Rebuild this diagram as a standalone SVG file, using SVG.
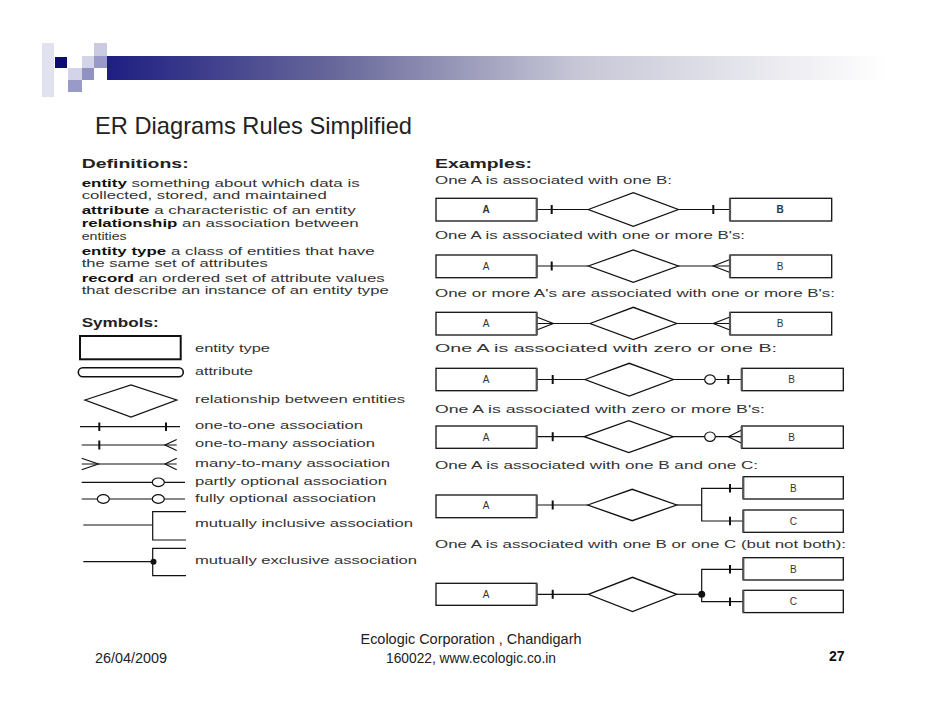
<svg xmlns="http://www.w3.org/2000/svg" width="942" height="728" viewBox="0 0 942 728">
<style>
text{font-family:"Liberation Sans",Arial,sans-serif;}
.t{font-size:11.5px;fill:#333;}
.h{font-size:12.5px;font-weight:bold;fill:#222;}
.b{font-weight:bold;fill:#111;}
.lbl{font-size:10px;fill:#333;text-anchor:middle;}
.ft{font-size:14px;fill:#222;}
.ent{fill:#fff;stroke:#111;stroke-width:1.3;}
.edge{stroke:#555;stroke-width:2.2;}
.dia{fill:#fff;stroke:#111;stroke-width:1.3;}
.ln{stroke:#111;stroke-width:1.2;fill:none;}
.tk{stroke:#111;stroke-width:2;}
.op{fill:#fff;stroke:#111;stroke-width:1.2;}
</style>
<defs>
<linearGradient id="bar" x1="0" y1="0" x2="1" y2="0">
<stop offset="0" stop-color="#1e1e82"/>
<stop offset="0.3" stop-color="#6a6a9c"/>
<stop offset="0.6" stop-color="#c6c6d6"/>
<stop offset="1" stop-color="#ffffff"/>
</linearGradient>
</defs>
<rect width="942" height="728" fill="#fff"/>
<g id="header">
<rect x="42" y="43" width="12" height="54" fill="#e2e2ee"/>
<rect x="55" y="57" width="12" height="11" fill="#0c0c70"/>
<rect x="94" y="43" width="13" height="13" fill="#cacae0"/>
<rect x="82" y="56" width="12" height="12" fill="#d4d4e8"/>
<rect x="94" y="56" width="13" height="12" fill="#9a9ac8"/>
<rect x="68" y="68" width="14" height="12" fill="#d4d4e8"/>
<rect x="82" y="68" width="12" height="12" fill="#9292c2"/>
<rect x="68" y="80" width="14" height="12" fill="#9a9ac8"/>
<rect x="107" y="56" width="780" height="24" fill="url(#bar)"/>
<text x="95" y="134" font-size="24" fill="#222" textLength="317" lengthAdjust="spacingAndGlyphs">ER Diagrams Rules Simplified</text>
</g>
<g id="definitions">
<text class="h" x="81.7" y="168" textLength="107" lengthAdjust="spacingAndGlyphs">Definitions:</text>
<text class="t" x="81.7" y="186.5" textLength="278" lengthAdjust="spacingAndGlyphs"><tspan class="b">entity</tspan> something about which data is</text>
<text class="t" x="81.7" y="198.5" textLength="245" lengthAdjust="spacingAndGlyphs">collected, stored, and maintained</text>
<text class="t" x="81.7" y="213.5" textLength="274" lengthAdjust="spacingAndGlyphs"><tspan class="b">attribute</tspan> a characteristic of an entity</text>
<text class="t" x="81.7" y="227" textLength="277" lengthAdjust="spacingAndGlyphs"><tspan class="b">relationship</tspan> an association between</text>
<text class="t" x="81.7" y="239.5" textLength="45" lengthAdjust="spacingAndGlyphs">entities</text>
<text class="t" x="81.7" y="254.5" textLength="293" lengthAdjust="spacingAndGlyphs"><tspan class="b">entity type</tspan> a class of entities that have</text>
<text class="t" x="81.7" y="266.5" textLength="186" lengthAdjust="spacingAndGlyphs">the same set of attributes</text>
<text class="t" x="81.7" y="281.5" textLength="303" lengthAdjust="spacingAndGlyphs"><tspan class="b">record</tspan> an ordered set of attribute values</text>
<text class="t" x="81.7" y="293.5" textLength="307" lengthAdjust="spacingAndGlyphs">that describe an instance of an entity type</text>
</g>
<g id="symbols">
<text class="h" x="81.7" y="327" textLength="77" lengthAdjust="spacingAndGlyphs">Symbols:</text>
<rect x="80" y="336" width="100.7" height="23.3" fill="#fff" stroke="#111" stroke-width="2"/>
<rect x="78.3" y="367.7" width="105" height="9" rx="4.5" fill="#fff" stroke="#111" stroke-width="1.6"/>
<polygon class="dia" points="85,400 131,385 176.7,400 131,417"/>
<line class="ln" x1="80" y1="426.7" x2="180" y2="426.7"/>
<line class="tk" x1="99.3" y1="422.5" x2="99.3" y2="431"/>
<line class="tk" x1="166" y1="422.5" x2="166" y2="431"/>
<line class="ln" x1="81.7" y1="445" x2="176.7" y2="445"/>
<line class="tk" x1="99.3" y1="440.5" x2="99.3" y2="449.5"/>
<polyline class="ln" points="176.7,439.5 165,445 176.7,450.5"/>
<line class="ln" x1="81.7" y1="464" x2="176.7" y2="464"/>
<polyline class="ln" points="81.7,458.3 98.3,464 81.7,469.7"/>
<polyline class="ln" points="176.7,458.3 165,464 176.7,469.7"/>
<line class="ln" x1="81.7" y1="482.3" x2="185" y2="482.3"/>
<ellipse class="op" cx="158.3" cy="482.3" rx="6" ry="4.3"/>
<line class="ln" x1="81.7" y1="499" x2="185" y2="499"/>
<ellipse class="op" cx="103.3" cy="499" rx="6" ry="4.3"/>
<ellipse class="op" cx="158.3" cy="499" rx="6" ry="4.3"/>
<line class="ln" x1="83.3" y1="525" x2="152.7" y2="525"/>
<polyline class="ln" points="186,511.7 152.7,511.7 152.7,540 186,540"/>
<line class="ln" x1="83.3" y1="561.7" x2="152.7" y2="561.7"/>
<polyline class="ln" points="186,548.3 152.7,548.3 152.7,575.7 186,575.7"/>
<circle cx="153.5" cy="561.7" r="3" fill="#111"/>
<text class="t" x="195" y="351.5" textLength="75" lengthAdjust="spacingAndGlyphs">entity type</text>
<text class="t" x="195" y="375" textLength="58" lengthAdjust="spacingAndGlyphs">attribute</text>
<text class="t" x="195" y="402.5" textLength="210" lengthAdjust="spacingAndGlyphs">relationship between entities</text>
<text class="t" x="195" y="428.5" textLength="168" lengthAdjust="spacingAndGlyphs">one-to-one association</text>
<text class="t" x="195" y="447" textLength="180" lengthAdjust="spacingAndGlyphs">one-to-many association</text>
<text class="t" x="195" y="467" textLength="195" lengthAdjust="spacingAndGlyphs">many-to-many association</text>
<text class="t" x="195" y="485" textLength="192" lengthAdjust="spacingAndGlyphs">partly optional association</text>
<text class="t" x="195" y="502" textLength="181" lengthAdjust="spacingAndGlyphs">fully optional association</text>
<text class="t" x="195" y="527" textLength="218" lengthAdjust="spacingAndGlyphs">mutually inclusive association</text>
<text class="t" x="195" y="564" textLength="222" lengthAdjust="spacingAndGlyphs">mutually exclusive association</text>
</g>
<g id="example-labels">
<text class="h" x="435" y="167.5" textLength="97" lengthAdjust="spacingAndGlyphs">Examples:</text>
<text class="t" x="435" y="183.5" textLength="237" lengthAdjust="spacingAndGlyphs">One A is associated with one B:</text>
<text class="t" x="435" y="238.5" textLength="310" lengthAdjust="spacingAndGlyphs">One A is associated with one or more B's:</text>
<text class="t" x="435" y="297" textLength="400" lengthAdjust="spacingAndGlyphs">One or more A's are associated with one or more B's:</text>
<text class="t" x="435" y="352" textLength="342" lengthAdjust="spacingAndGlyphs">One A is associated with zero or one B:</text>
<text class="t" x="435" y="412.5" textLength="330" lengthAdjust="spacingAndGlyphs">One A is associated with zero or more B's:</text>
<text class="t" x="435" y="468.5" textLength="323" lengthAdjust="spacingAndGlyphs">One A is associated with one B and one C:</text>
<text class="t" x="435" y="547.5" textLength="411" lengthAdjust="spacingAndGlyphs">One A is associated with one B or one C (but not both):</text>
</g>
<g id="connectors">
<line class="ln" x1="536.7" y1="209.5" x2="588.3" y2="209.5"/>
<line class="tk" x1="551.7" y1="205" x2="551.7" y2="214"/>
<line class="ln" x1="678.3" y1="209.5" x2="730" y2="209.5"/>
<line class="tk" x1="713.3" y1="205" x2="713.3" y2="214"/>
<line class="ln" x1="536.7" y1="266" x2="588.3" y2="266"/>
<line class="tk" x1="551.7" y1="261.5" x2="551.7" y2="270.5"/>
<line class="ln" x1="678.3" y1="266" x2="730" y2="266"/>
<polyline class="ln" points="730,259.5 713.3,266 730,272.5"/>
<line class="ln" x1="536.7" y1="323.5" x2="590" y2="323.5"/>
<polyline class="ln" points="536.7,317 553.3,323.5 536.7,330"/>
<line class="ln" x1="676.7" y1="323.5" x2="730" y2="323.5"/>
<polyline class="ln" points="730,317 713.3,323.5 730,330"/>
<line class="ln" x1="536.7" y1="379.5" x2="585" y2="379.5"/>
<line class="tk" x1="552.7" y1="375" x2="552.7" y2="384"/>
<line class="ln" x1="673.3" y1="379.5" x2="741.7" y2="379.5"/>
<ellipse class="op" cx="710" cy="379.5" rx="5.3" ry="4.7"/>
<line class="tk" x1="728.3" y1="375" x2="728.3" y2="384"/>
<line class="ln" x1="536.7" y1="436.7" x2="584.3" y2="436.7"/>
<line class="tk" x1="552.7" y1="432.2" x2="552.7" y2="441.2"/>
<line class="ln" x1="673.3" y1="436.7" x2="741.7" y2="436.7"/>
<ellipse class="op" cx="710" cy="436.7" rx="5.3" ry="4.7"/>
<polyline class="ln" points="741.7,430 728.3,436.7 741.7,443.3"/>
<line class="ln" x1="536.7" y1="505" x2="587.7" y2="505"/>
<line class="tk" x1="552.7" y1="500.5" x2="552.7" y2="509.5"/>
<line class="ln" x1="676.7" y1="505" x2="701.7" y2="505"/>
<polyline class="ln" points="743.3,488.3 701.7,488.3 701.7,521 743.3,521"/>
<line class="tk" x1="730" y1="484" x2="730" y2="492.6"/>
<line class="tk" x1="730" y1="516.7" x2="730" y2="525.3"/>
<line class="ln" x1="536.7" y1="594.3" x2="588.3" y2="594.3"/>
<line class="tk" x1="552.7" y1="589.8" x2="552.7" y2="598.8"/>
<line class="ln" x1="676.7" y1="594.3" x2="701.7" y2="594.3"/>
<polyline class="ln" points="743.3,569.3 701.7,569.3 701.7,601.7 743.3,601.7"/>
<circle cx="701.7" cy="594.3" r="3.5" fill="#111"/>
<line class="tk" x1="730" y1="565" x2="730" y2="573.6"/>
<line class="tk" x1="730" y1="597.4" x2="730" y2="606"/>
</g>
<g id="r1-a"><rect class="ent" x="436" y="198.3" width="100.7" height="22.7"/><line class="edge" x1="536.7" y1="198.3" x2="536.7" y2="221"/><text class="lbl" x="486" y="213" font-weight="bold">A</text></g>
<g id="r1-rel"><polygon class="dia" points="588.3,209.5 633.3,192.7 678.3,209.5 633.3,226.3"/></g>
<g id="r1-b"><rect class="ent" x="730" y="198.3" width="101.7" height="22.7"/><line class="edge" x1="730" y1="198.3" x2="730" y2="221"/><text class="lbl" x="780" y="213" font-weight="bold">B</text></g>
<g id="r2-a"><rect class="ent" x="436" y="255" width="100.7" height="22.7"/><line class="edge" x1="536.7" y1="255" x2="536.7" y2="277.7"/><text class="lbl" x="486" y="269.7">A</text></g>
<g id="r2-rel"><polygon class="dia" points="588.3,266 633.3,250 678.3,266 633.3,282.3"/></g>
<g id="r2-b"><rect class="ent" x="730" y="255" width="101.7" height="22.7"/><line class="edge" x1="730" y1="255" x2="730" y2="277.7"/><text class="lbl" x="780" y="269.7">B</text></g>
<g id="r3-a"><rect class="ent" x="436" y="312.3" width="100.7" height="22.7"/><line class="edge" x1="536.7" y1="312.3" x2="536.7" y2="335"/><text class="lbl" x="486" y="327">A</text></g>
<g id="r3-rel"><polygon class="dia" points="590,323.5 633.3,307.3 676.7,323.5 633.3,339.5"/></g>
<g id="r3-b"><rect class="ent" x="730" y="312.3" width="101.7" height="22.7"/><line class="edge" x1="730" y1="312.3" x2="730" y2="335"/><text class="lbl" x="780" y="327">B</text></g>
<g id="r4-a"><rect class="ent" x="436" y="368.3" width="100.7" height="22.4"/><line class="edge" x1="536.7" y1="368.3" x2="536.7" y2="390.7"/><text class="lbl" x="486" y="383">A</text></g>
<g id="r4-rel"><polygon class="dia" points="585,379.5 629.2,363.3 673.3,379.5 629.2,396"/></g>
<g id="r4-b"><rect class="ent" x="741.7" y="368.3" width="101.6" height="22.4"/><line class="edge" x1="741.7" y1="368.3" x2="741.7" y2="390.7"/><text class="lbl" x="791.7" y="383">B</text></g>
<g id="r5-a"><rect class="ent" x="436" y="426" width="100.7" height="22.3"/><line class="edge" x1="536.7" y1="426" x2="536.7" y2="448.3"/><text class="lbl" x="486" y="440.5">A</text></g>
<g id="r5-rel"><polygon class="dia" points="584.3,436.7 628.8,420.7 673.3,436.7 628.8,452.5"/></g>
<g id="r5-b"><rect class="ent" x="741.7" y="426" width="101.6" height="22.3"/><line class="edge" x1="741.7" y1="426" x2="741.7" y2="448.3"/><text class="lbl" x="791.7" y="440.5">B</text></g>
<g id="r6-a"><rect class="ent" x="436" y="495" width="100.7" height="22.7"/><line class="edge" x1="536.7" y1="495" x2="536.7" y2="517.7"/><text class="lbl" x="486" y="509">A</text></g>
<g id="r6-rel"><polygon class="dia" points="587.7,505 632.2,489.3 676.7,505 632.2,520.7"/></g>
<g id="r6-b"><rect class="ent" x="743.3" y="476.7" width="100" height="22.3"/><line class="edge" x1="743.3" y1="476.7" x2="743.3" y2="499"/><text class="lbl" x="793.3" y="491.5">B</text></g>
<g id="r6-c"><rect class="ent" x="743.3" y="510" width="100" height="22.3"/><line class="edge" x1="743.3" y1="510" x2="743.3" y2="532.3"/><text class="lbl" x="793.3" y="524.8">C</text></g>
<g id="r7-a"><rect class="ent" x="436" y="583.3" width="100.7" height="22"/><line class="edge" x1="536.7" y1="583.3" x2="536.7" y2="605.3"/><text class="lbl" x="486" y="598">A</text></g>
<g id="r7-rel"><polygon class="dia" points="588.3,594.3 632.5,577.3 676.7,594.3 632.5,611.5"/></g>
<g id="r7-b"><rect class="ent" x="743.3" y="557.7" width="100" height="22.3"/><line class="edge" x1="743.3" y1="557.7" x2="743.3" y2="580"/><text class="lbl" x="793.3" y="572.5">B</text></g>
<g id="r7-c"><rect class="ent" x="743.3" y="590.3" width="100" height="22.3"/><line class="edge" x1="743.3" y1="590.3" x2="743.3" y2="612.6"/><text class="lbl" x="793.3" y="605.2">C</text></g>
<g id="footer">
<text class="ft" x="95" y="663" textLength="72" lengthAdjust="spacingAndGlyphs">26/04/2009</text>
<text class="ft" x="471" y="644" text-anchor="middle" textLength="221" lengthAdjust="spacingAndGlyphs">Ecologic Corporation , Chandigarh</text>
<text class="ft" x="471" y="663" text-anchor="middle" textLength="170" lengthAdjust="spacingAndGlyphs">160022, www.ecologic.co.in</text>
<text x="829" y="661" font-size="14" font-weight="bold" fill="#111">27</text>
</g>
</svg>
